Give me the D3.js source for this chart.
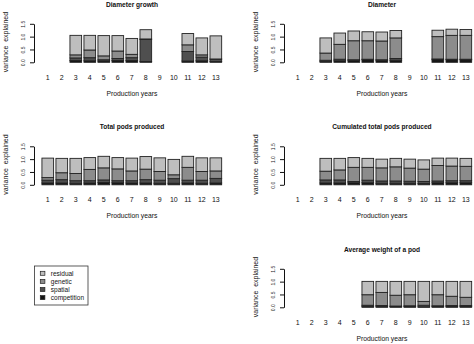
<!DOCTYPE html>
<html><head><meta charset="utf-8">
<script src="https://cdn.jsdelivr.net/npm/d3@7"></script>
<style>
body{margin:0;background:#fff;}
svg{display:block;font-family:"Liberation Sans",Arial,sans-serif;}
</style></head><body>
<svg id="chart" width="474" height="344"></svg>
<script>
const years = [1,2,3,4,5,6,7,8,9,10,11,12,13];
const yTicks = [0, 0.5, 1.0, 1.5];
const layerNames = ["competition","spatial","genetic","residual"];
const legendLabels = ["residual","genetic","spatial","competition"];
const colors = {competition:"#141414", spatial:"#4f4f4f", genetic:"#8c8c8c", residual:"#bebebe"};
const N = null;

// Diameter growth
const dgComp     = [N,N,0.07,0.06,0.05,0.07,0.07,0.03,N,N,0.05,0.06,0.03];
const dgSpatial  = [N,N,0.10,0.12,0.05,0.08,0.11,0.86,N,N,0.37,0.14,0.09];
const dgGenetic  = [N,N,0.12,0.30,0.15,0.29,0.13,0.02,N,N,0.26,0.09,0.01];
const dgResidual = [N,N,0.76,0.57,0.79,0.60,0.62,0.36,N,N,0.44,0.66,0.90];
// Diameter
const dComp     = [N,N,0.04,0.06,0.08,0.10,0.08,0.08,N,N,0.10,0.10,0.10];
const dSpatial  = [N,N,0.04,0.06,0.02,0.02,0.02,0.07,N,N,0.03,0.02,0.02];
const dGenetic  = [N,N,0.28,0.58,0.74,0.72,0.73,0.80,N,N,0.87,0.93,0.93];
const dResidual = [N,N,0.59,0.44,0.38,0.35,0.35,0.29,N,N,0.25,0.24,0.23];
// Total pods produced
const tpComp     = [0.07,0.07,0.06,0.07,0.09,0.08,0.07,0.07,0.06,0.06,0.07,0.06,0.07];
const tpSpatial  = [0.11,0.13,0.10,0.09,0.10,0.08,0.09,0.13,0.12,0.18,0.11,0.12,0.18];
const tpGenetic  = [0.10,0.27,0.28,0.44,0.47,0.46,0.38,0.41,0.34,0.15,0.50,0.34,0.29];
const tpResidual = [0.76,0.56,0.59,0.46,0.45,0.44,0.50,0.49,0.53,0.60,0.43,0.53,0.51];
// Cumulated total pods produced
const ctComp     = [N,N,0.07,0.07,0.08,0.08,0.06,0.06,0.06,0.05,0.08,0.08,0.08];
const ctSpatial  = [N,N,0.12,0.12,0.05,0.10,0.09,0.09,0.08,0.08,0.07,0.08,0.08];
const ctGenetic  = [N,N,0.34,0.39,0.55,0.50,0.51,0.55,0.51,0.48,0.60,0.57,0.56];
const ctResidual = [N,N,0.50,0.45,0.38,0.35,0.34,0.33,0.35,0.36,0.29,0.31,0.31];
// Average weight of a pod
const awComp     = [N,N,N,N,N,0.04,0.04,0.03,0.03,0.02,0.03,0.03,0.03];
const awSpatial  = [N,N,N,N,N,0.04,0.03,0.02,0.03,0.06,0.03,0.04,0.04];
const awGenetic  = [N,N,N,N,N,0.41,0.51,0.42,0.43,0.15,0.43,0.36,0.32];
const awResidual = [N,N,N,N,N,0.52,0.43,0.54,0.52,0.78,0.52,0.58,0.62];

const panels = [
  {title:"Diameter growth", col:0, row:0, comp:dgComp, spatial:dgSpatial, genetic:dgGenetic, residual:dgResidual},
  {title:"Diameter", col:1, row:0, comp:dComp, spatial:dSpatial, genetic:dGenetic, residual:dResidual},
  {title:"Total pods produced", col:0, row:1, comp:tpComp, spatial:tpSpatial, genetic:tpGenetic, residual:tpResidual},
  {title:"Cumulated total pods produced", col:1, row:1, comp:ctComp, spatial:ctSpatial, genetic:ctGenetic, residual:ctResidual},
  {title:"Average weight of a pod", col:1, row:2, comp:awComp, spatial:awSpatial, genetic:awGenetic, residual:awResidual}
];

const svg = d3.select("#chart");
const colW = 250, rowH = 122.5;

panels.forEach(p => {
  const ox = p.col * colW, oy = p.row * rowH;
  const g = svg.append("g").attr("transform", `translate(${ox},${oy})`);
  const x = d3.scaleBand().domain(years).range([39.6, 224]).paddingInner(1/6).paddingOuter(1/6);
  const y = d3.scaleLinear().domain([0, 1.5]).range([62.3, 23.8]);

  const rows = years.map((yr, i) => ({
    year: yr,
    competition: p.comp[i], spatial: p.spatial[i], genetic: p.genetic[i], residual: p.residual[i]
  })).filter(d => d.competition !== null);

  const stack = d3.stack().keys(layerNames);
  const series = stack(rows);

  g.selectAll("g.layer").data(series).join("g")
    .attr("fill", d => colors[d.key])
    .selectAll("rect").data(d => d).join("rect")
    .attr("x", d => x(d.data.year))
    .attr("width", x.bandwidth())
    .attr("y", d => y(d[1]))
    .attr("height", d => y(d[0]) - y(d[1]))
    .attr("stroke", "#222").attr("stroke-width", 0.9);

  // y axis
  const ax = g.append("g").attr("transform", "translate(34,0)")
    .call(d3.axisLeft(y).tickValues(yTicks).tickSize(4).tickSizeOuter(0).tickFormat(d3.format(".1f")));
  ax.select(".domain").attr("stroke", "#111");
  ax.selectAll(".tick line").attr("stroke", "#111");
  ax.selectAll(".tick text")
    .attr("transform", "rotate(-90)")
    .attr("x", 0).attr("y", -9).attr("dy", 0)
    .attr("text-anchor", "middle")
    .attr("font-size", 5).attr("fill", "#222");

  // x labels
  g.selectAll("text.xl").data(years).join("text").attr("class","xl")
    .attr("x", d => x(d) + x.bandwidth()/2).attr("y", 79.8)
    .attr("text-anchor", "middle").attr("font-size", 7).attr("fill", "#111")
    .text(d => d);

  g.append("text").attr("x", 132).attr("y", 95.5).attr("text-anchor","middle")
    .attr("font-size", 6.8).attr("fill","#111").text("Production years");

  g.append("text").attr("x", 132).attr("y", 6.6).attr("text-anchor","middle")
    .attr("font-size", 6.6).attr("font-weight","bold").attr("fill","#111").text(p.title);

  g.append("text").attr("transform", "translate(7.5,42) rotate(-90)")
    .attr("text-anchor","middle").attr("font-size", 7).attr("fill","#111")
    .style("white-space","pre").text("variance  explained");
});

// legend
const lg = svg.append("g");
lg.append("rect").attr("x", 34.5).attr("y", 266).attr("width", 53.5).attr("height", 39)
  .attr("fill", "#fff").attr("stroke", "#333").attr("stroke-width", 0.8);
legendLabels.forEach((k, i) => {
  const cy = 273.3 + i * 8.1;
  lg.append("rect").attr("x", 40.3).attr("y", cy - 2).attr("width", 4.6).attr("height", 4)
    .attr("fill", colors[k]).attr("stroke", "#222").attr("stroke-width", 0.7);
  lg.append("text").attr("x", 50.8).attr("y", cy + 2.3).attr("font-size", 6.5).attr("fill","#111").text(k);
});
</script>
</body></html>
